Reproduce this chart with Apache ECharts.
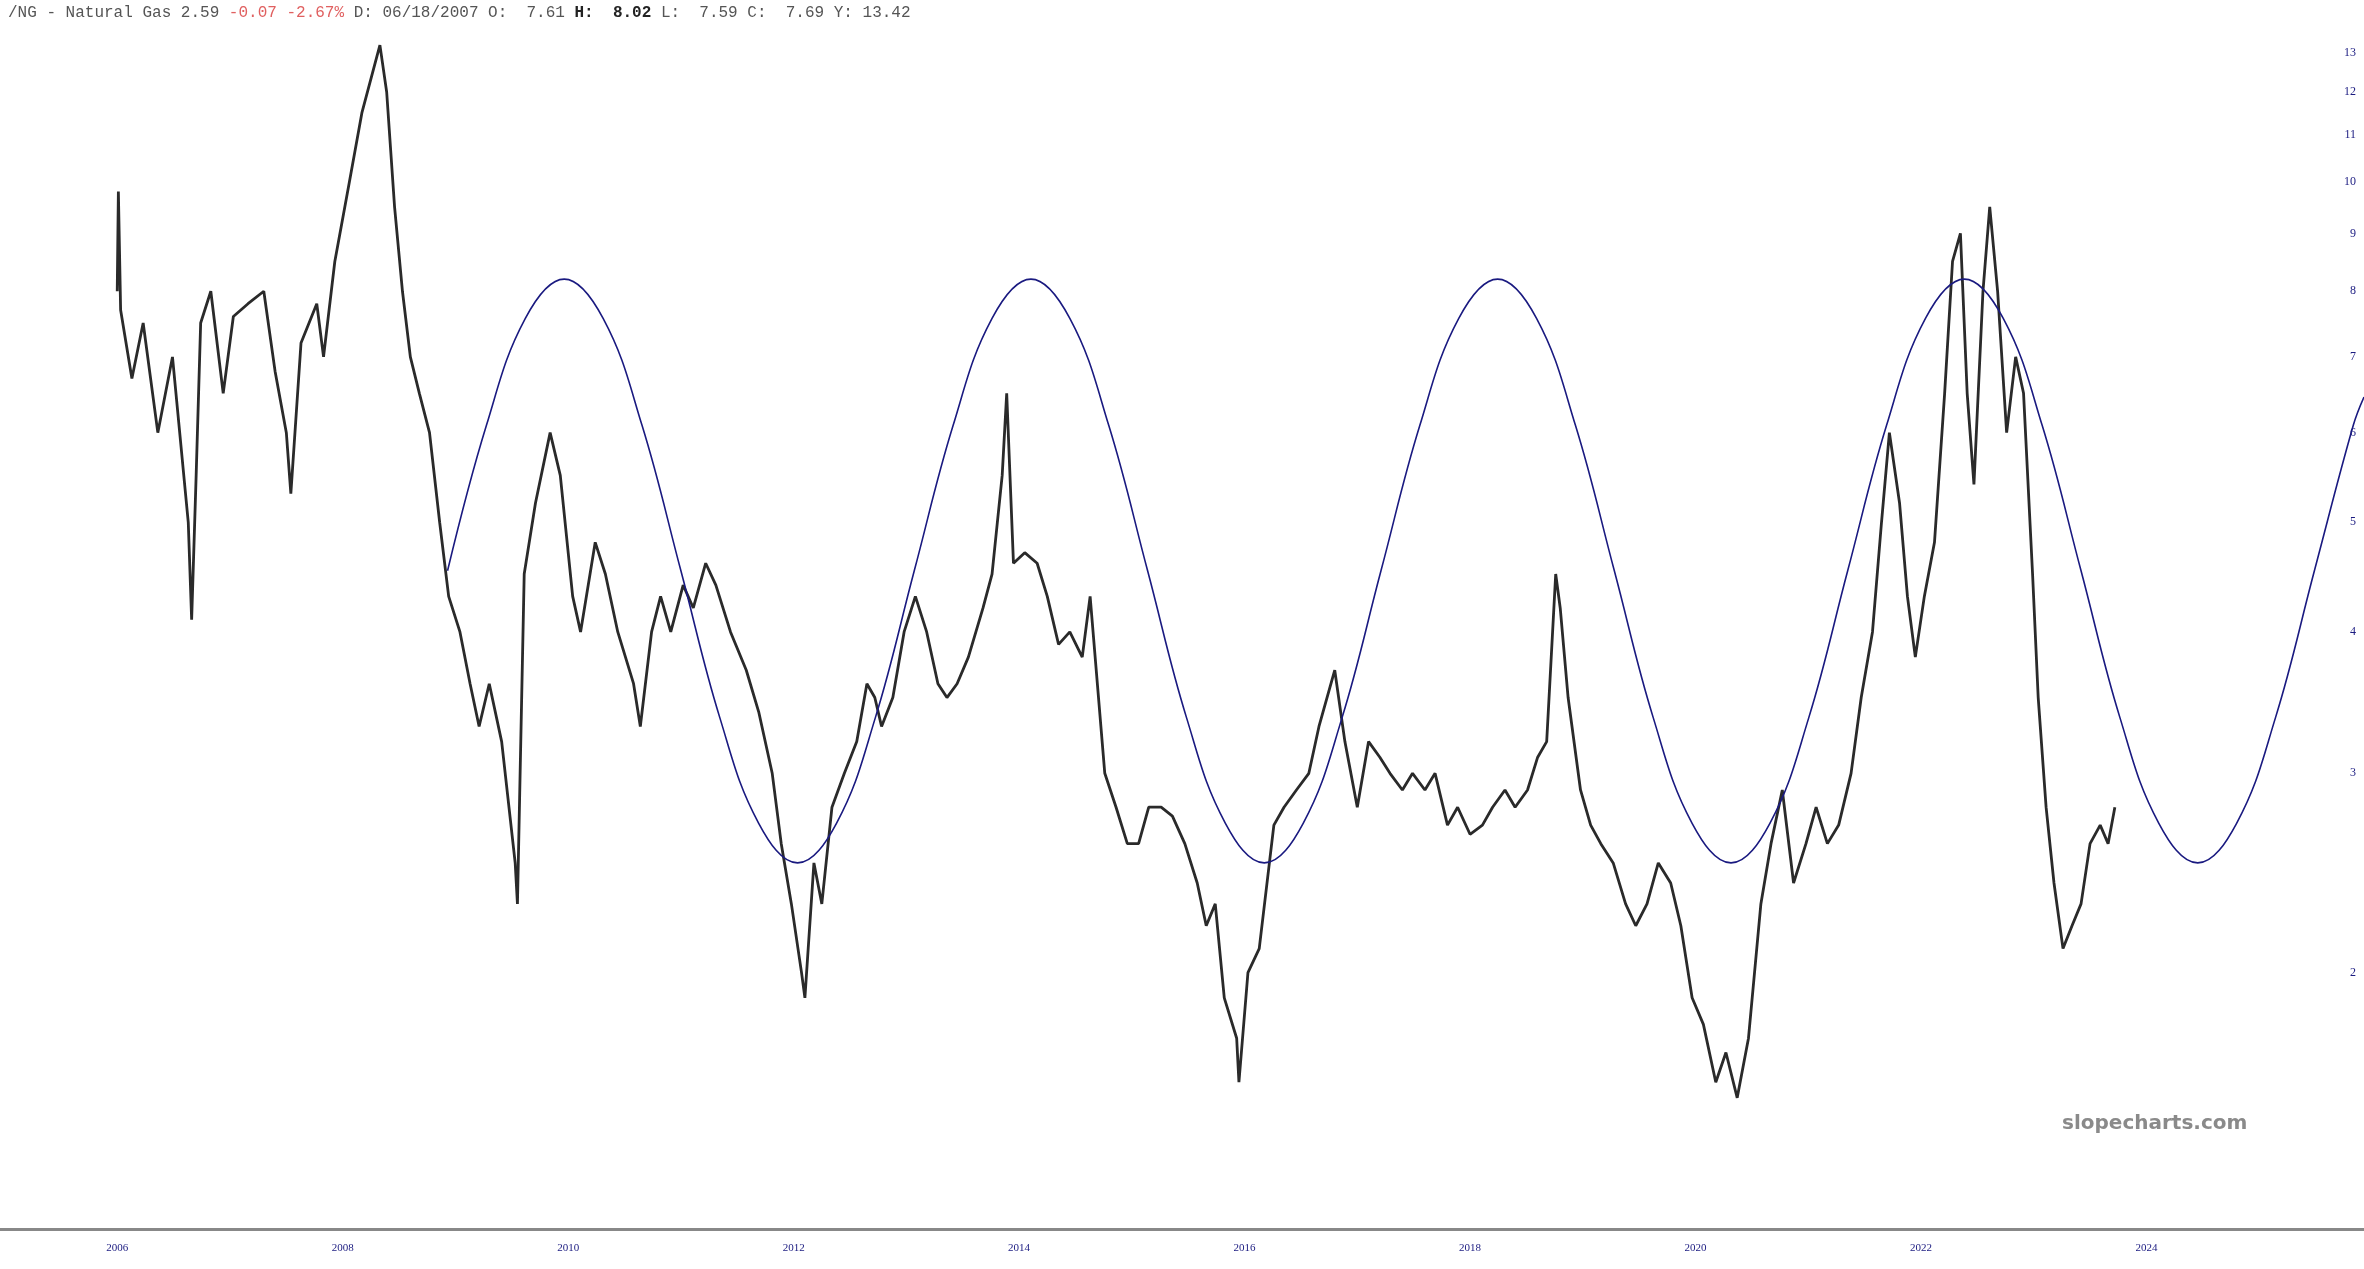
<!DOCTYPE html>
<html><head><meta charset="utf-8">
<script src="https://cdn.jsdelivr.net/npm/echarts@6/dist/echarts.min.js"></script>
<style>html,body{margin:0;padding:0;background:#fff}#c{width:2364px;height:1269px}</style>
</head><body><div id="c"></div>
<script>
const priceYears = [2006.00,2006.01,2006.03,2006.13,2006.23,2006.36,2006.49,2006.63,2006.66,2006.70,2006.74,2006.83,2006.94,2007.03,2007.16,2007.30,2007.40,2007.50,2007.54,2007.63,2007.77,2007.83,2007.93,2008.06,2008.17,2008.33,2008.39,2008.46,2008.53,2008.60,2008.68,2008.77,2008.86,2008.94,2009.04,2009.13,2009.21,2009.30,2009.41,2009.53,2009.55,2009.61,2009.71,2009.84,2009.93,2010.04,2010.11,2010.24,2010.33,2010.44,2010.58,2010.64,2010.74,2010.82,2010.91,2011.02,2011.11,2011.22,2011.31,2011.44,2011.58,2011.69,2011.81,2011.89,2011.98,2012.07,2012.10,2012.18,2012.25,2012.34,2012.45,2012.56,2012.65,2012.72,2012.78,2012.88,2012.98,2013.08,2013.18,2013.28,2013.36,2013.45,2013.55,2013.68,2013.76,2013.85,2013.89,2013.95,2014.05,2014.16,2014.25,2014.35,2014.45,2014.56,2014.63,2014.76,2014.86,2014.96,2015.06,2015.15,2015.26,2015.36,2015.47,2015.58,2015.66,2015.74,2015.82,2015.93,2015.95,2016.03,2016.13,2016.26,2016.35,2016.46,2016.57,2016.66,2016.80,2016.89,2017.00,2017.10,2017.20,2017.29,2017.40,2017.49,2017.60,2017.69,2017.80,2017.89,2018.00,2018.11,2018.20,2018.31,2018.40,2018.51,2018.60,2018.68,2018.76,2018.80,2018.87,2018.98,2019.07,2019.16,2019.27,2019.38,2019.47,2019.57,2019.67,2019.78,2019.87,2019.97,2020.07,2020.18,2020.27,2020.37,2020.47,2020.58,2020.67,2020.77,2020.87,2020.98,2021.07,2021.17,2021.27,2021.38,2021.47,2021.57,2021.65,2021.72,2021.81,2021.88,2021.95,2022.03,2022.12,2022.21,2022.28,2022.35,2022.41,2022.47,2022.55,2022.61,2022.68,2022.76,2022.84,2022.91,2022.99,2023.04,2023.11,2023.18,2023.26,2023.34,2023.42,2023.50,2023.59,2023.66,2023.72];
const priceValues = [8.0,9.8,7.7,6.7,7.5,6.0,7.0,5.0,4.1,5.5,7.5,8.0,6.5,7.6,7.8,8.0,6.8,6.0,5.3,7.2,7.8,7.0,8.5,10.0,11.5,13.2,12.0,9.5,8.0,7.0,6.5,6.0,5.0,4.3,4.0,3.6,3.3,3.6,3.2,2.5,2.3,4.5,5.2,6.0,5.5,4.3,4.0,4.8,4.5,4.0,3.6,3.3,4.0,4.3,4.0,4.4,4.2,4.6,4.4,4.0,3.7,3.4,3.0,2.6,2.3,2.0,1.9,2.5,2.3,2.8,3.0,3.2,3.6,3.5,3.3,3.5,4.0,4.3,4.0,3.6,3.5,3.6,3.8,4.2,4.5,5.5,6.5,4.6,4.7,4.6,4.3,3.9,4.0,3.8,4.3,3.0,2.8,2.6,2.6,2.8,2.8,2.75,2.6,2.4,2.2,2.3,1.9,1.75,1.6,2.0,2.1,2.7,2.8,2.9,3.0,3.3,3.7,3.2,2.8,3.2,3.1,3.0,2.9,3.0,2.9,3.0,2.7,2.8,2.65,2.7,2.8,2.9,2.8,2.9,3.1,3.2,4.5,4.2,3.5,2.9,2.7,2.6,2.5,2.3,2.2,2.3,2.5,2.4,2.2,1.9,1.8,1.6,1.7,1.55,1.75,2.3,2.6,2.9,2.4,2.6,2.8,2.6,2.7,3.0,3.5,4.0,5.0,6.0,5.2,4.3,3.8,4.3,4.8,6.5,8.5,9.0,6.5,5.4,8.0,9.5,8.0,6.0,7.0,6.5,4.5,3.5,2.8,2.4,2.1,2.2,2.3,2.6,2.7,2.6,2.8];
const cycleYears = [2008.93,2009.275,2009.62,2009.965,2010.31,2010.655,2011.00,2011.345,2011.69,2012.035,2012.38,2012.725,2013.07,2013.415,2013.76,2014.105,2014.45,2014.795,2015.14,2015.485,2015.83,2016.175,2016.52,2016.865,2017.21,2017.555,2017.90,2018.245,2018.59,2018.935,2019.28,2019.625,2019.97,2020.315,2020.66,2021.005,2021.35,2021.695,2022.04,2022.385,2022.73,2023.075,2023.42,2023.765,2024.11,2024.455,2024.80,2025.145,2025.49,2025.835,2025.93];
const cycleValues = [4.53,6.09,7.57,8.2,7.57,6.09,4.53,3.36,2.71,2.5,2.71,3.36,4.53,6.09,7.57,8.2,7.57,6.09,4.53,3.36,2.71,2.5,2.71,3.36,4.53,6.09,7.57,8.2,7.57,6.09,4.53,3.36,2.71,2.5,2.71,3.36,4.53,6.09,7.57,8.2,7.57,6.09,4.53,3.36,2.71,2.5,2.71,3.36,4.53,6.09,6.45];
const yearTicks = [2006,2008,2010,2012,2014,2016,2018,2020,2022,2024];
const priceTicks = [2,3,4,5,6,7,8,9,10,11,12,13];

const chart = echarts.init(document.getElementById('c'));
chart.setOption({
  backgroundColor:'#fff', animation:false,
  grid:{left:0,right:0,top:0,bottom:40},
  xAxis:{type:'value',min:2004.96,max:2025.93,
    axisLine:{show:true,lineStyle:{color:'#888',width:3}},
    axisTick:{show:false},splitLine:{show:false},
    axisLabel:{customValues:yearTicks,formatter:v=>String(Math.round(v)),color:'#1a1a80',fontFamily:'Liberation Serif',fontSize:11,margin:14}},
  yAxis:{type:'log',logBase:10,min:1.187,max:14.47,position:'right',
    axisLine:{show:false},axisTick:{show:false},splitLine:{show:false},
    axisLabel:{customValues:priceTicks,inside:true,margin:8,color:'#1a1a80',fontFamily:'Liberation Serif',fontSize:12,formatter:v=>String(Math.round(v))}},
  graphic:[
    {type:'text',left:8,top:5,style:{rich:{n:{fill:'#555',font:'16px "Liberation Mono"'},r:{fill:'#e06060',font:'16px "Liberation Mono"'},b:{fill:'#222',font:'bold 16px "Liberation Mono"'}},
      text:'{n|/NG - Natural Gas 2.59 }{r|-0.07 -2.67%}{n| D: 06/18/2007 O:  7.61 }{b|H:  8.02}{n| L:  7.59 C:  7.69 Y: 13.42}'}},
    {type:'text',left:2062,top:1114,style:{text:'slopecharts.com',fill:'#8a8a8a',font:'bold 20px "DejaVu Sans"'}}
  ],
  series:[
    {type:'line',data:cycleYears.map((y,i)=>[y,cycleValues[i]]),smooth:0.4,showSymbol:false,lineStyle:{color:'#1a1a80',width:1.6},z:3},
    {type:'line',data:priceYears.map((y,i)=>[y,priceValues[i]]),showSymbol:false,lineStyle:{color:'#2a2a2a',width:2.8},z:2}
  ]
});
</script></body></html>
